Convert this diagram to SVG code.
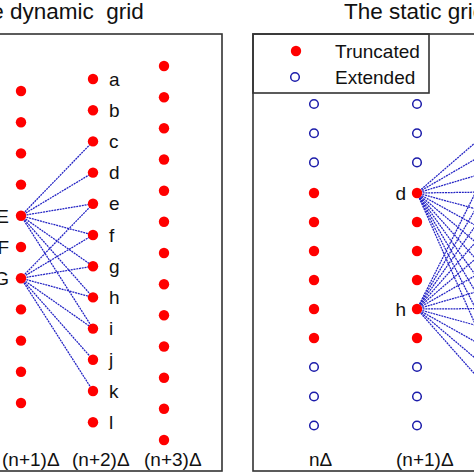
<svg xmlns="http://www.w3.org/2000/svg" width="474" height="474" viewBox="0 0 474 474">
<style>
text{font-family:"Liberation Sans",Arial,sans-serif;fill:#111}
.t{font-size:22.5px;white-space:pre}
.l{font-size:19px}
.frame{fill:none;stroke:#333;stroke-width:1.6}
.f{fill:#f00}
.o{fill:#fff;stroke:#1c1caa;stroke-width:1.5}
.c line{stroke:#2222c4;stroke-width:1.25;stroke-dasharray:2 0.8}
</style>
<defs>
<circle id="fd" r="5.2" class="f"/>
<circle id="od" r="4.3" class="o"/>
</defs>
<rect width="474" height="474" fill="#fff"/>
<text class="t" x="-35" y="19" xml:space="preserve">The dynamic  grid</text>
<text class="t" x="344" y="19">The static grid</text>
<rect class="frame" x="-10" y="34" width="232" height="437"/>
<rect class="frame" x="253" y="34" width="240" height="437"/>
<g id="legend">
<rect class="frame" x="253" y="34" width="176" height="59"/>
<use href="#fd" x="296" y="51"/>
<use href="#od" x="295" y="77"/>
<text class="l" x="335" y="58">Truncated</text>
<text class="l" x="335" y="84">Extended</text>
</g>
<g id="connectors" class="c">
<line x1="21" y1="215.8" x2="93" y2="141.4"/>
<line x1="21" y1="215.8" x2="93" y2="172.6"/>
<line x1="21" y1="215.8" x2="93" y2="203.8"/>
<line x1="21" y1="215.8" x2="93" y2="235"/>
<line x1="21" y1="215.8" x2="93" y2="266.2"/>
<line x1="21" y1="215.8" x2="93" y2="297.4"/>
<line x1="21" y1="215.8" x2="93" y2="328.6"/>
<line x1="21" y1="278.2" x2="93" y2="203.8"/>
<line x1="21" y1="278.2" x2="93" y2="235"/>
<line x1="21" y1="278.2" x2="93" y2="266.2"/>
<line x1="21" y1="278.2" x2="93" y2="297.4"/>
<line x1="21" y1="278.2" x2="93" y2="328.6"/>
<line x1="21" y1="278.2" x2="93" y2="359.8"/>
<line x1="21" y1="278.2" x2="93" y2="391"/>
<line x1="417" y1="193" x2="520" y2="104"/>
<line x1="417" y1="193" x2="520" y2="133.2"/>
<line x1="417" y1="193" x2="520" y2="162.4"/>
<line x1="417" y1="193" x2="520" y2="191.6"/>
<line x1="417" y1="193" x2="520" y2="220.8"/>
<line x1="417" y1="193" x2="520" y2="250"/>
<line x1="417" y1="193" x2="520" y2="279.2"/>
<line x1="417" y1="193" x2="520" y2="308.4"/>
<line x1="417" y1="193" x2="520" y2="337.6"/>
<line x1="417" y1="193" x2="520" y2="366.8"/>
<line x1="417" y1="193" x2="520" y2="396"/>
<line x1="417" y1="193" x2="520" y2="425.2"/>
<line x1="417" y1="309" x2="520" y2="104"/>
<line x1="417" y1="309" x2="520" y2="133.2"/>
<line x1="417" y1="309" x2="520" y2="162.4"/>
<line x1="417" y1="309" x2="520" y2="191.6"/>
<line x1="417" y1="309" x2="520" y2="220.8"/>
<line x1="417" y1="309" x2="520" y2="250"/>
<line x1="417" y1="309" x2="520" y2="279.2"/>
<line x1="417" y1="309" x2="520" y2="308.4"/>
<line x1="417" y1="309" x2="520" y2="337.6"/>
<line x1="417" y1="309" x2="520" y2="366.8"/>
<line x1="417" y1="309" x2="520" y2="396"/>
<line x1="417" y1="309" x2="520" y2="425.2"/>
</g>
<g id="col1">
<g id="n1-0"><use href="#fd" x="21" y="91"/></g>
<g id="n1-1"><use href="#fd" x="21" y="122.2"/></g>
<g id="n1-2"><use href="#fd" x="21" y="153.4"/></g>
<g id="n1-3"><use href="#fd" x="21" y="184.6"/></g>
<g id="nE"><use href="#fd" x="21" y="215.8"/><text class="l" x="9" y="222.5" text-anchor="end">E</text></g>
<g id="nF"><use href="#fd" x="21" y="247"/><text class="l" x="9" y="253.7" text-anchor="end">F</text></g>
<g id="nG"><use href="#fd" x="21" y="278.2"/><text class="l" x="9" y="284.9" text-anchor="end">G</text></g>
<g id="n1-7"><use href="#fd" x="21" y="309.4"/></g>
<g id="n1-8"><use href="#fd" x="21" y="340.6"/></g>
<g id="n1-9"><use href="#fd" x="21" y="371.8"/></g>
<g id="n1-10"><use href="#fd" x="21" y="403"/></g>
<text class="l" x="2" y="466">(n+1)Δ</text>
</g>
<g id="col2">
<g id="na"><use href="#fd" x="93" y="79"/><text class="l" x="109" y="85.5">a</text></g>
<g id="nb"><use href="#fd" x="93" y="110.2"/><text class="l" x="109" y="116.7">b</text></g>
<g id="nc"><use href="#fd" x="93" y="141.4"/><text class="l" x="109" y="147.9">c</text></g>
<g id="nd"><use href="#fd" x="93" y="172.6"/><text class="l" x="109" y="179.1">d</text></g>
<g id="ne"><use href="#fd" x="93" y="203.8"/><text class="l" x="109" y="210.3">e</text></g>
<g id="nf"><use href="#fd" x="93" y="235"/><text class="l" x="109" y="241.5">f</text></g>
<g id="ng"><use href="#fd" x="93" y="266.2"/><text class="l" x="109" y="272.7">g</text></g>
<g id="nh"><use href="#fd" x="93" y="297.4"/><text class="l" x="109" y="303.9">h</text></g>
<g id="ni"><use href="#fd" x="93" y="328.6"/><text class="l" x="109" y="335.1">i</text></g>
<g id="nj"><use href="#fd" x="93" y="359.8"/><text class="l" x="109" y="366.3">j</text></g>
<g id="nk"><use href="#fd" x="93" y="391"/><text class="l" x="109" y="397.5">k</text></g>
<g id="nl"><use href="#fd" x="93" y="422.2"/><text class="l" x="109" y="428.7">l</text></g>
<text class="l" x="72" y="466">(n+2)Δ</text>
</g>
<g id="col3">
<g id="n3-0"><use href="#fd" x="164" y="66"/></g>
<g id="n3-1"><use href="#fd" x="164" y="97.2"/></g>
<g id="n3-2"><use href="#fd" x="164" y="128.3"/></g>
<g id="n3-3"><use href="#fd" x="164" y="159.5"/></g>
<g id="n3-4"><use href="#fd" x="164" y="190.7"/></g>
<g id="n3-5"><use href="#fd" x="164" y="221.8"/></g>
<g id="n3-6"><use href="#fd" x="164" y="253"/></g>
<g id="n3-7"><use href="#fd" x="164" y="284.2"/></g>
<g id="n3-8"><use href="#fd" x="164" y="315.3"/></g>
<g id="n3-9"><use href="#fd" x="164" y="346.5"/></g>
<g id="n3-10"><use href="#fd" x="164" y="377.7"/></g>
<g id="n3-11"><use href="#fd" x="164" y="408.8"/></g>
<g id="n3-12"><use href="#fd" x="164" y="440"/></g>
<text class="l" x="144" y="466">(n+3)Δ</text>
</g>
<g id="scol1">
<g id="s1-0"><use href="#od" x="314" y="104"/></g>
<g id="s1-1"><use href="#od" x="314" y="133.2"/></g>
<g id="s1-2"><use href="#od" x="314" y="162.4"/></g>
<g id="s1-3"><use href="#fd" x="314" y="193"/></g>
<g id="s1-4"><use href="#fd" x="314" y="222"/></g>
<g id="s1-5"><use href="#fd" x="314" y="251"/></g>
<g id="s1-6"><use href="#fd" x="314" y="280"/></g>
<g id="s1-7"><use href="#fd" x="314" y="309"/></g>
<g id="s1-8"><use href="#fd" x="314" y="338"/></g>
<g id="s1-9"><use href="#od" x="314" y="367"/></g>
<g id="s1-10"><use href="#od" x="314" y="396.5"/></g>
<g id="s1-11"><use href="#od" x="314" y="425.5"/></g>
<text class="l" x="309" y="466">nΔ</text>
</g>
<g id="scol2">
<g id="s2-0"><use href="#od" x="417" y="104"/></g>
<g id="s2-1"><use href="#od" x="417" y="133.2"/></g>
<g id="s2-2"><use href="#od" x="417" y="162.4"/></g>
<g id="sd"><use href="#fd" x="417" y="193"/><text class="l" x="406" y="200" text-anchor="end">d</text></g>
<g id="s2-4"><use href="#fd" x="417" y="222"/></g>
<g id="s2-5"><use href="#fd" x="417" y="251"/></g>
<g id="s2-6"><use href="#fd" x="417" y="280"/></g>
<g id="sh"><use href="#fd" x="417" y="309"/><text class="l" x="406" y="316" text-anchor="end">h</text></g>
<g id="s2-8"><use href="#fd" x="417" y="338"/></g>
<g id="s2-9"><use href="#od" x="417" y="367"/></g>
<g id="s2-10"><use href="#od" x="417" y="396.5"/></g>
<g id="s2-11"><use href="#od" x="417" y="425.5"/></g>
<text class="l" x="396" y="466">(n+1)Δ</text>
</g>
</svg>
